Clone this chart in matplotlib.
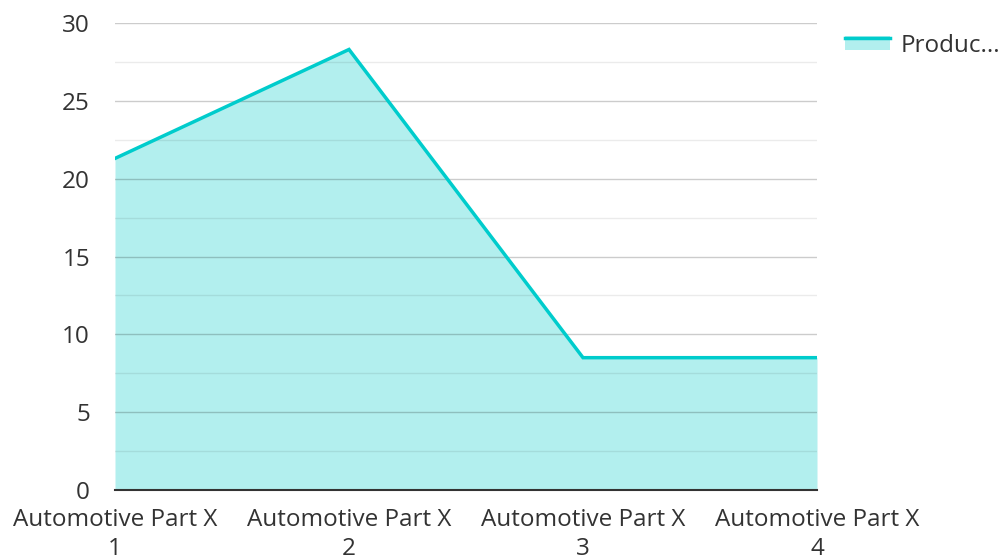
import matplotlib.pyplot as plt
from matplotlib.legend_handler import HandlerBase
from matplotlib.lines import Line2D
from matplotlib.patches import Rectangle
from matplotlib.ticker import MultipleLocator

plt.rcParams['font.family'] = ['Open Sans', 'DejaVu Sans']

categories = ["Automotive Part X\n1", "Automotive Part X\n2",
              "Automotive Part X\n3", "Automotive Part X\n4"]
values = [21.3, 28.3, 8.5, 8.5]
series_name = "Produc..."

line_color = "#00cccc"
fill_color = "#b2efee"
text_color = "#333333"


class AreaHandler(HandlerBase):
    # line on top, light area below it, like the legend swatch of an area chart
    def create_artists(self, legend, orig_handle, xdescent, ydescent,
                       width, height, fontsize, trans):
        top = height
        rect = Rectangle((-xdescent, -ydescent), width, top,
                         facecolor=fill_color, edgecolor="none",
                         transform=trans)
        line = Line2D([-xdescent, -xdescent + width], [top, top],
                      color=line_color, linewidth=2.5, transform=trans)
        return [rect, line]


fig = plt.figure(figsize=(10.04, 5.6), dpi=100)
ax = fig.add_axes([115 / 1004, 70 / 560, 702 / 1004, 467 / 560])

x = range(len(categories))
ax.fill_between(x, values, 0, color=fill_color, linewidth=0)
ax.plot(x, values, color=line_color, linewidth=2.5, solid_joinstyle="miter")

ax.set_xlim(0, len(categories) - 1)
ax.set_ylim(0, 30)
ax.yaxis.set_major_locator(MultipleLocator(5))
ax.yaxis.set_minor_locator(MultipleLocator(2.5))
ax.grid(which="major", axis="y", color="black", alpha=0.2, linewidth=1)
ax.grid(which="minor", axis="y", color="black", alpha=0.08, linewidth=1)

ax.set_xticks(list(x))
ax.set_xticklabels(categories, fontsize=17.5, color=text_color, linespacing=1.28)
ax.tick_params(axis="y", labelsize=17.5, labelcolor=text_color, length=0, pad=18)
ax.tick_params(axis="x", length=0, pad=13)
ax.tick_params(which="minor", length=0)

for s in ["top", "right", "left"]:
    ax.spines[s].set_visible(False)
ax.spines["bottom"].set_color(text_color)
ax.spines["bottom"].set_linewidth(1.5)

fig.legend([object()], [series_name], handler_map={object: AreaHandler()},
           loc="upper left", bbox_to_anchor=(823 / 1004, 1 - 12 / 560),
           frameon=False, fontsize=17.5, handlelength=1.85, handleheight=0.5,
           handletextpad=0.45, labelcolor=text_color)

fig.savefig("out.png", dpi=100)
